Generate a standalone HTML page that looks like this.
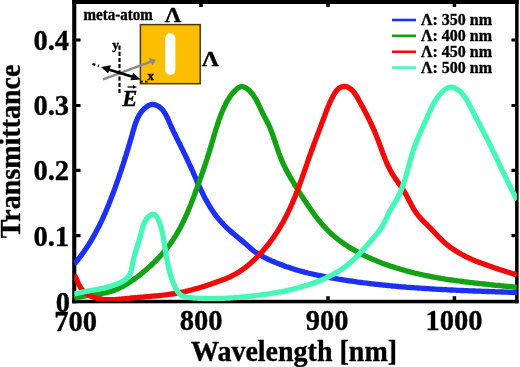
<!DOCTYPE html>
<html><head><meta charset="utf-8">
<style>
html,body{margin:0;padding:0;background:#fff;}
body{width:520px;height:367px;overflow:hidden;}
svg{display:block;}
text{font-family:"Liberation Serif","Times New Roman",serif;font-weight:bold;fill:#000;stroke:#000;stroke-width:0.35px;}
</style></head>
<body>
<svg width="520" height="367" viewBox="0 0 520 367">
<defs><clipPath id="plotclip"><rect x="74.2" y="2" width="442.7" height="299.6"/></clipPath></defs>
<rect x="0" y="0" width="520" height="367" fill="#fff"/>

<!-- frame -->
<g fill="#000">
<rect x="72.2" y="0" width="446.4" height="4"/>
<rect x="72.2" y="0" width="4.1" height="303.3"/>
<rect x="72.2" y="299.8" width="446.4" height="3.5"/>
<rect x="515.1" y="0" width="3.5" height="303.3"/>
</g>
<g stroke="#000" stroke-width="3.1">
<path d="M76 40H80.5M76 105.5H80.5M76 170.4H80.5M76 235.6H80.5"/>
<path d="M515.5 40H511.5M515.5 105.5H511.5M515.5 170.4H511.5M515.5 235.6H511.5"/>
</g>
<g stroke="#000" stroke-width="3.5">
<path d="M201 300V296.3M328 300V296.3M454.4 300V296.3"/>
<path d="M201 3.5V7M328 3.5V7M454.4 3.5V7"/>
</g>
<g clip-path="url(#plotclip)" fill="none" stroke-width="5.3" stroke-linejoin="round" stroke-linecap="butt">
<path d="M73.9 264.4 74.9 263.3 75.9 262.2 76.8 261.0 77.8 259.9 78.7 258.7 79.6 257.5 80.5 256.3 81.4 255.1 82.3 253.9 83.2 252.7 84.1 251.5 84.9 250.2 85.8 249.0 86.6 247.8 87.4 246.5 88.3 245.2 89.1 244.0 89.9 242.7 90.6 241.4 91.4 240.1 92.2 238.8 92.9 237.5 93.7 236.2 94.4 234.9 95.1 233.6 95.8 232.3 96.5 231.0 97.2 229.6 97.9 228.3 98.6 227.0 99.3 225.6 99.9 224.3 100.6 222.9 101.2 221.6 101.9 220.2 102.5 218.9 103.1 217.5 103.7 216.1 104.4 214.8 105.0 213.4 105.6 212.0 106.2 210.6 106.7 209.3 107.3 207.9 107.9 206.5 108.5 205.1 109.0 203.7 109.6 202.3 110.1 200.9 110.7 199.5 111.2 198.1 111.7 196.7 112.3 195.3 112.8 193.9 113.3 192.5 113.9 191.1 114.4 189.7 114.9 188.3 115.4 186.9 115.9 185.5 116.4 184.0 116.9 182.6 117.4 181.2 117.9 179.8 118.4 178.4 118.9 177.0 119.4 175.6 119.8 174.1 120.3 172.7 120.8 171.3 121.3 169.9 121.8 168.4 122.2 167.0 122.7 165.6 123.2 164.2 123.6 162.7 124.1 161.3 124.5 159.9 125.0 158.4 125.4 157.0 125.9 155.6 126.3 154.2 126.8 152.7 127.2 151.3 127.6 149.9 128.1 148.4 128.5 147.0 128.9 145.5 129.4 144.1 129.8 142.7 130.2 141.2 130.6 139.8 131.1 138.3 131.5 136.9 131.9 135.5 132.3 134.0 132.7 132.6 133.1 131.1 133.5 129.7 134.0 128.3 134.4 126.8 134.8 125.4 135.3 124.0 135.8 122.5 136.3 121.1 136.9 119.8 137.5 118.4 138.2 117.0 138.9 115.7 139.6 114.4 140.4 113.2 141.3 111.9 142.3 110.8 143.3 109.7 144.3 108.6 145.5 107.6 146.7 106.7 147.9 105.9 149.3 105.2 150.7 104.7 152.2 104.5 153.7 104.5 155.1 104.8 156.5 105.3 157.9 106.0 159.2 106.7 160.4 107.7 161.5 108.7 162.5 109.8 163.4 110.9 164.3 112.2 165.1 113.4 165.8 114.7 166.5 116.1 167.2 117.4 167.8 118.8 168.4 120.2 169.0 121.5 169.6 122.9 170.2 124.3 170.8 125.6 171.4 127.0 172.1 128.4 172.7 129.7 173.3 131.1 174.0 132.5 174.6 133.8 175.3 135.2 175.9 136.5 176.6 137.9 177.3 139.2 177.9 140.5 178.6 141.9 179.3 143.2 179.9 144.6 180.6 145.9 181.3 147.3 181.9 148.6 182.6 149.9 183.3 151.3 183.9 152.6 184.6 154.0 185.3 155.3 185.9 156.7 186.6 158.0 187.2 159.4 187.8 160.7 188.5 162.1 189.1 163.5 189.7 164.8 190.3 166.2 191.0 167.6 191.6 168.9 192.2 170.3 192.8 171.7 193.4 173.0 194.0 174.4 194.6 175.8 195.2 177.2 195.8 178.5 196.4 179.9 197.0 181.3 197.6 182.7 198.2 184.0 198.9 185.4 199.5 186.8 200.1 188.1 200.7 189.5 201.4 190.8 202.0 192.2 202.7 193.5 203.4 194.9 204.0 196.2 204.7 197.5 205.4 198.9 206.1 200.2 206.9 201.5 207.6 202.8 208.3 204.1 209.1 205.4 209.9 206.7 210.7 208.0 211.5 209.2 212.3 210.5 213.1 211.7 214.0 213.0 214.8 214.2 215.7 215.4 216.6 216.6 217.6 217.8 218.5 218.9 219.5 220.1 220.5 221.2 221.5 222.3 222.5 223.4 223.5 224.5 224.6 225.6 225.7 226.6 226.7 227.7 227.8 228.7 228.9 229.7 230.1 230.7 231.2 231.7 232.3 232.7 233.4 233.7 234.6 234.6 235.7 235.6 236.9 236.6 238.0 237.5 239.2 238.5 240.3 239.4 241.5 240.4 242.7 241.4 243.8 242.3 244.9 243.3 246.1 244.3 247.2 245.3 248.3 246.2 249.5 247.2 250.6 248.2 251.7 249.2 252.9 250.2 254.0 251.1 255.2 252.0 256.4 252.9 257.7 253.7 259.0 254.5 260.3 255.3 261.6 256.0 262.9 256.7 264.3 257.4 265.6 258.0 266.9 258.7 268.3 259.3 269.7 260.0 271.0 260.6 272.4 261.2 273.8 261.8 275.2 262.4 276.5 262.9 277.9 263.5 279.3 264.1 280.7 264.6 282.1 265.1 283.5 265.6 285.0 266.2 286.4 266.7 287.8 267.1 289.2 267.6 290.6 268.1 292.1 268.5 293.5 269.0 294.9 269.4 296.4 269.9 297.8 270.3 299.2 270.7 300.7 271.1 302.1 271.5 303.6 271.9 305.0 272.3 306.5 272.6 307.9 273.0 309.4 273.3 310.9 273.7 312.3 274.0 313.8 274.4 315.3 274.7 316.7 275.0 318.2 275.3 319.7 275.6 321.1 275.9 322.6 276.2 324.1 276.5 325.5 276.8 327.0 277.1 328.5 277.4 330.0 277.6 331.4 277.9 332.9 278.2 334.4 278.4 335.9 278.7 337.3 278.9 338.8 279.2 340.3 279.4 341.8 279.6 343.3 279.9 344.8 280.1 346.2 280.3 347.7 280.6 349.2 280.8 350.7 281.0 352.2 281.2 353.7 281.4 355.1 281.6 356.6 281.9 358.1 282.1 359.6 282.3 361.1 282.5 362.6 282.7 364.1 282.8 365.5 283.0 367.0 283.2 368.5 283.4 370.0 283.6 371.5 283.8 373.0 283.9 374.5 284.1 376.0 284.3 377.5 284.4 379.0 284.6 380.4 284.8 381.9 284.9 383.4 285.1 384.9 285.2 386.4 285.4 387.9 285.5 389.4 285.7 390.9 285.8 392.4 286.0 393.9 286.1 395.4 286.2 396.9 286.4 398.4 286.5 399.9 286.6 401.4 286.8 402.8 286.9 404.3 287.0 405.8 287.1 407.3 287.3 408.8 287.4 410.3 287.5 411.8 287.6 413.3 287.7 414.8 287.8 416.3 287.9 417.8 288.0 419.3 288.1 420.8 288.2 422.3 288.3 423.8 288.4 425.3 288.5 426.8 288.6 428.3 288.7 429.8 288.8 431.3 288.9 432.8 289.0 434.3 289.1 435.8 289.2 437.3 289.3 438.8 289.3 440.3 289.4 441.8 289.5 443.3 289.6 444.8 289.7 446.3 289.7 447.7 289.8 449.2 289.9 450.7 290.0 452.2 290.0 453.7 290.1 455.2 290.2 456.7 290.3 458.2 290.3 459.7 290.4 461.2 290.5 462.7 290.5 464.2 290.6 465.7 290.6 467.2 290.7 468.7 290.8 470.2 290.8 471.7 290.9 473.2 291.0 474.7 291.0 476.2 291.1 477.7 291.1 479.2 291.2 480.7 291.2 482.2 291.3 483.7 291.4 485.2 291.4 486.7 291.5 488.2 291.5 489.7 291.6 491.2 291.6 492.7 291.7 494.2 291.7 495.7 291.8 497.2 291.8 498.7 291.9 500.2 291.9 501.7 292.0 503.2 292.0 504.7 292.1 506.2 292.2 507.7 292.2 509.2 292.3 510.7 292.3 512.2 292.4 513.7 292.4 515.2 292.5 516.7 292.5 517.0 292.5" stroke="#1c30f6"/>
<path d="M74.1 298.2 75.5 297.8 77.0 297.5 78.4 297.2 79.9 296.9 81.4 296.6 82.9 296.4 84.3 296.1 85.8 295.9 87.3 295.7 88.8 295.5 90.3 295.3 91.8 295.1 93.3 294.9 94.8 294.7 96.2 294.5 97.7 294.3 99.2 294.1 100.7 293.8 102.2 293.5 103.6 293.2 105.1 292.9 106.6 292.6 108.0 292.2 109.5 291.8 110.9 291.4 112.3 290.9 113.7 290.4 115.1 289.9 116.5 289.3 117.9 288.7 119.3 288.1 120.6 287.4 121.9 286.8 123.3 286.1 124.6 285.3 125.9 284.6 127.2 283.8 128.4 283.0 129.7 282.2 131.0 281.4 132.2 280.5 133.4 279.7 134.7 278.8 135.9 277.9 137.1 277.0 138.3 276.1 139.4 275.2 140.6 274.3 141.8 273.3 143.0 272.4 144.1 271.4 145.3 270.5 146.4 269.5 147.5 268.5 148.6 267.5 149.8 266.5 150.9 265.5 152.0 264.5 153.0 263.4 154.1 262.4 155.2 261.3 156.2 260.3 157.3 259.2 158.3 258.1 159.4 257.0 160.4 255.9 161.4 254.8 162.4 253.7 163.3 252.5 164.3 251.4 165.3 250.2 166.2 249.1 167.1 247.9 168.1 246.7 169.0 245.5 169.9 244.3 170.7 243.1 171.6 241.9 172.5 240.6 173.3 239.4 174.1 238.1 174.9 236.8 175.7 235.6 176.5 234.3 177.2 233.0 178.0 231.7 178.7 230.4 179.5 229.1 180.2 227.8 180.9 226.4 181.6 225.1 182.2 223.8 182.9 222.4 183.6 221.1 184.2 219.7 184.8 218.4 185.5 217.0 186.1 215.6 186.7 214.3 187.3 212.9 187.9 211.5 188.5 210.1 189.0 208.7 189.6 207.3 190.2 206.0 190.7 204.6 191.3 203.2 191.8 201.8 192.4 200.4 192.9 199.0 193.4 197.6 194.0 196.2 194.5 194.8 195.0 193.4 195.5 191.9 196.0 190.5 196.6 189.1 197.1 187.7 197.6 186.3 198.1 184.9 198.6 183.5 199.1 182.1 199.6 180.7 200.1 179.2 200.6 177.8 201.1 176.4 201.6 175.0 202.1 173.6 202.6 172.2 203.1 170.7 203.5 169.3 204.0 167.9 204.5 166.5 205.0 165.1 205.5 163.6 205.9 162.2 206.4 160.8 206.9 159.4 207.3 157.9 207.8 156.5 208.2 155.1 208.7 153.6 209.1 152.2 209.6 150.8 210.0 149.3 210.4 147.9 210.9 146.5 211.3 145.0 211.7 143.6 212.2 142.2 212.6 140.7 213.0 139.3 213.4 137.8 213.8 136.4 214.2 135.0 214.7 133.5 215.1 132.1 215.5 130.6 216.0 129.2 216.4 127.8 216.9 126.3 217.3 124.9 217.8 123.5 218.3 122.1 218.7 120.6 219.2 119.2 219.8 117.8 220.3 116.4 220.8 115.0 221.4 113.6 221.9 112.2 222.5 110.8 223.1 109.5 223.7 108.1 224.3 106.7 225.0 105.4 225.7 104.0 226.3 102.7 227.1 101.4 227.8 100.1 228.6 98.8 229.4 97.5 230.2 96.3 231.1 95.1 232.0 93.9 233.0 92.8 234.0 91.6 235.0 90.6 236.1 89.5 237.3 88.6 238.5 87.7 239.8 87.0 241.3 86.6 242.8 86.7 244.2 87.1 245.6 87.7 246.9 88.5 248.0 89.4 249.2 90.4 250.2 91.5 251.2 92.6 252.2 93.7 253.1 94.9 253.9 96.2 254.7 97.4 255.5 98.7 256.3 100.0 257.0 101.3 257.7 102.7 258.3 104.0 259.0 105.4 259.7 106.7 260.3 108.1 260.9 109.4 261.6 110.8 262.2 112.1 262.9 113.5 263.5 114.8 264.2 116.2 264.9 117.5 265.6 118.8 266.3 120.2 267.0 121.5 267.6 122.8 268.3 124.2 268.9 125.5 269.6 126.9 270.2 128.3 270.7 129.7 271.3 131.1 271.8 132.5 272.3 133.9 272.9 135.3 273.4 136.7 273.8 138.1 274.3 139.5 274.8 141.0 275.3 142.4 275.7 143.8 276.2 145.2 276.7 146.7 277.2 148.1 277.7 149.5 278.1 150.9 278.6 152.3 279.1 153.7 279.7 155.1 280.2 156.6 280.7 157.9 281.3 159.3 281.9 160.7 282.5 162.1 283.1 163.5 283.7 164.8 284.4 166.2 285.0 167.5 285.7 168.9 286.4 170.2 287.1 171.5 287.8 172.8 288.5 174.2 289.3 175.5 290.0 176.8 290.8 178.1 291.5 179.4 292.3 180.7 293.0 181.9 293.8 183.2 294.6 184.5 295.4 185.8 296.2 187.1 297.0 188.3 297.7 189.6 298.5 190.9 299.3 192.2 300.1 193.4 300.9 194.7 301.8 196.0 302.6 197.2 303.4 198.5 304.2 199.7 305.0 201.0 305.9 202.2 306.7 203.5 307.5 204.7 308.4 206.0 309.2 207.2 310.1 208.4 310.9 209.7 311.8 210.9 312.7 212.1 313.5 213.3 314.4 214.5 315.3 215.8 316.2 217.0 317.1 218.1 318.0 219.3 319.0 220.5 319.9 221.7 320.9 222.8 321.8 224.0 322.8 225.1 323.8 226.2 324.8 227.3 325.9 228.4 326.9 229.5 328.0 230.6 329.0 231.6 330.1 232.7 331.2 233.7 332.3 234.7 333.5 235.7 334.6 236.6 335.8 237.6 336.9 238.5 338.1 239.5 339.3 240.4 340.5 241.3 341.7 242.2 342.9 243.0 344.2 243.9 345.4 244.7 346.7 245.5 347.9 246.4 349.2 247.2 350.5 247.9 351.8 248.7 353.1 249.5 354.4 250.2 355.7 251.0 357.0 251.7 358.3 252.4 359.6 253.1 361.0 253.8 362.3 254.5 363.6 255.1 365.0 255.8 366.3 256.4 367.7 257.1 369.1 257.7 370.4 258.3 371.8 258.9 373.2 259.5 374.6 260.1 376.0 260.6 377.3 261.2 378.7 261.8 380.1 262.3 381.5 262.9 382.9 263.4 384.3 263.9 385.8 264.4 387.2 264.9 388.6 265.4 390.0 265.9 391.4 266.4 392.8 266.8 394.3 267.3 395.7 267.8 397.1 268.2 398.6 268.6 400.0 269.1 401.4 269.5 402.9 269.9 404.3 270.3 405.8 270.7 407.2 271.1 408.7 271.5 410.1 271.9 411.6 272.2 413.0 272.6 414.5 273.0 416.0 273.3 417.4 273.7 418.9 274.0 420.3 274.3 421.8 274.7 423.3 275.0 424.7 275.3 426.2 275.6 427.7 275.9 429.1 276.2 430.6 276.5 432.1 276.8 433.6 277.0 435.0 277.3 436.5 277.6 438.0 277.8 439.5 278.1 440.9 278.4 442.4 278.6 443.9 278.8 445.4 279.1 446.9 279.3 448.3 279.5 449.8 279.8 451.3 280.0 452.8 280.2 454.3 280.4 455.8 280.6 457.3 280.8 458.7 281.0 460.2 281.2 461.7 281.4 463.2 281.6 464.7 281.8 466.2 282.0 467.7 282.2 469.2 282.4 470.6 282.6 472.1 282.7 473.6 282.9 475.1 283.1 476.6 283.2 478.1 283.4 479.6 283.6 481.1 283.7 482.6 283.9 484.1 284.0 485.6 284.2 487.0 284.4 488.5 284.5 490.0 284.7 491.5 284.8 493.0 285.0 494.5 285.1 496.0 285.3 497.5 285.4 499.0 285.5 500.5 285.7 502.0 285.8 503.5 286.0 505.0 286.1 506.5 286.3 507.9 286.4 509.4 286.6 510.9 286.7 512.4 286.8 513.9 287.0 515.4 287.1 516.9 287.3 516.9 287.3" stroke="#12a214"/>
<path d="M74.2 274.9 75.0 276.2 75.7 277.5 76.4 278.8 77.0 280.2 77.6 281.6 78.1 283.0 78.8 284.3 79.4 285.7 80.2 287.0 81.0 288.3 81.9 289.5 82.9 290.6 84.0 291.6 85.1 292.6 86.3 293.5 87.5 294.3 88.8 295.1 90.1 295.8 91.5 296.5 92.9 297.0 94.3 297.5 95.7 298.0 97.2 298.4 98.6 298.7 100.1 299.0 101.6 299.2 103.1 299.4 104.6 299.6 106.1 299.7 107.6 299.7 109.1 299.7 110.6 299.7 112.1 299.7 113.6 299.7 115.1 299.6 116.6 299.5 118.1 299.4 119.5 299.2 121.0 299.1 122.5 298.9 124.0 298.8 125.5 298.6 127.0 298.5 128.5 298.3 130.0 298.2 131.5 298.0 133.0 297.9 134.5 297.7 136.0 297.6 137.5 297.5 139.0 297.3 140.4 297.2 141.9 297.1 143.4 297.0 144.9 296.8 146.4 296.7 147.9 296.6 149.4 296.5 150.9 296.3 152.4 296.2 153.9 296.1 155.4 295.9 156.9 295.8 158.4 295.6 159.9 295.5 161.4 295.3 162.9 295.2 164.3 295.0 165.8 294.8 167.3 294.6 168.8 294.4 170.3 294.2 171.8 294.0 173.3 293.8 174.7 293.5 176.2 293.3 177.7 293.0 179.2 292.7 180.6 292.4 182.1 292.1 183.6 291.8 185.0 291.5 186.5 291.1 188.0 290.8 189.4 290.4 190.9 290.1 192.3 289.7 193.8 289.3 195.2 288.9 196.7 288.5 198.1 288.1 199.5 287.7 201.0 287.2 202.4 286.8 203.9 286.4 205.3 285.9 206.7 285.5 208.1 285.0 209.6 284.5 211.0 284.1 212.4 283.6 213.8 283.1 215.3 282.6 216.7 282.1 218.1 281.6 219.5 281.1 220.9 280.6 222.3 280.1 223.7 279.5 225.1 279.0 226.5 278.4 227.9 277.8 229.2 277.2 230.6 276.6 231.9 275.9 233.3 275.2 234.6 274.5 235.9 273.8 237.2 273.1 238.5 272.3 239.8 271.5 241.0 270.6 242.2 269.8 243.5 268.9 244.7 268.0 245.8 267.1 247.0 266.2 248.2 265.2 249.3 264.2 250.5 263.2 251.6 262.3 252.7 261.2 253.8 260.2 254.9 259.2 256.0 258.1 257.0 257.1 258.1 256.0 259.1 254.9 260.1 253.9 261.2 252.8 262.2 251.6 263.2 250.5 264.1 249.4 265.1 248.2 266.1 247.1 267.0 245.9 268.0 244.8 268.9 243.6 269.8 242.4 270.7 241.2 271.6 240.0 272.5 238.8 273.3 237.5 274.2 236.3 275.0 235.1 275.9 233.8 276.7 232.6 277.5 231.3 278.3 230.0 279.1 228.8 279.9 227.5 280.6 226.2 281.4 224.9 282.1 223.6 282.9 222.3 283.6 221.0 284.3 219.6 285.0 218.3 285.7 217.0 286.4 215.7 287.1 214.3 287.7 213.0 288.4 211.6 289.0 210.3 289.7 208.9 290.3 207.6 290.9 206.2 291.5 204.8 292.2 203.5 292.8 202.1 293.3 200.7 293.9 199.3 294.5 197.9 295.1 196.5 295.6 195.2 296.2 193.8 296.7 192.4 297.3 191.0 297.8 189.6 298.3 188.2 298.9 186.8 299.4 185.4 299.9 183.9 300.4 182.5 300.9 181.1 301.4 179.7 301.9 178.3 302.4 176.9 302.9 175.5 303.4 174.0 303.9 172.6 304.4 171.2 304.9 169.8 305.4 168.4 305.9 167.0 306.4 165.5 306.9 164.1 307.3 162.7 307.8 161.3 308.3 159.9 308.8 158.5 309.3 157.0 309.8 155.6 310.3 154.2 310.8 152.8 311.3 151.4 311.8 150.0 312.4 148.6 312.9 147.2 313.4 145.8 313.9 144.3 314.4 142.9 315.0 141.5 315.5 140.1 316.0 138.7 316.5 137.3 317.1 135.9 317.6 134.5 318.1 133.1 318.7 131.7 319.2 130.3 319.7 128.9 320.3 127.5 320.8 126.1 321.3 124.7 321.8 123.3 322.4 121.9 322.9 120.5 323.4 119.1 323.9 117.7 324.5 116.3 325.0 114.9 325.5 113.5 326.0 112.0 326.6 110.6 327.1 109.2 327.6 107.8 328.2 106.4 328.8 105.1 329.4 103.7 330.0 102.3 330.6 100.9 331.2 99.6 331.9 98.2 332.6 96.9 333.3 95.6 334.1 94.3 334.8 93.0 335.7 91.8 336.6 90.6 337.6 89.5 338.7 88.5 340.0 87.6 341.3 87.0 342.7 86.6 344.2 86.4 345.7 86.5 347.2 86.9 348.5 87.6 349.8 88.3 351.0 89.2 352.1 90.3 353.2 91.3 354.1 92.5 355.0 93.7 355.8 95.0 356.6 96.2 357.4 97.5 358.1 98.8 358.8 100.1 359.6 101.5 360.3 102.8 361.0 104.1 361.7 105.4 362.5 106.7 363.2 108.0 363.9 109.4 364.6 110.7 365.3 112.0 366.0 113.3 366.7 114.7 367.3 116.0 368.0 117.3 368.7 118.7 369.4 120.0 370.0 121.4 370.7 122.7 371.3 124.1 371.9 125.5 372.5 126.8 373.2 128.2 373.8 129.6 374.4 130.9 374.9 132.3 375.5 133.7 376.1 135.1 376.6 136.5 377.2 137.9 377.7 139.3 378.3 140.7 378.8 142.1 379.3 143.5 379.8 144.9 380.3 146.3 380.8 147.7 381.4 149.1 381.9 150.5 382.4 152.0 382.9 153.4 383.4 154.8 384.0 156.2 384.5 157.6 385.1 159.0 385.7 160.3 386.2 161.7 386.8 163.1 387.4 164.5 388.1 165.8 388.7 167.2 389.4 168.5 390.1 169.9 390.8 171.2 391.5 172.5 392.3 173.8 393.1 175.1 393.9 176.3 394.7 177.6 395.5 178.8 396.4 180.0 397.3 181.3 398.1 182.5 399.0 183.7 399.9 184.9 400.7 186.2 401.6 187.4 402.4 188.6 403.2 189.9 404.0 191.2 404.8 192.5 405.6 193.8 406.3 195.1 407.0 196.4 407.7 197.7 408.4 199.0 409.1 200.4 409.8 201.7 410.5 203.0 411.2 204.4 411.9 205.7 412.6 207.0 413.3 208.3 414.1 209.6 414.9 210.9 415.7 212.1 416.6 213.3 417.5 214.5 418.4 215.7 419.4 216.9 420.4 218.0 421.4 219.1 422.4 220.2 423.5 221.3 424.5 222.3 425.6 223.4 426.7 224.4 427.7 225.5 428.8 226.6 429.8 227.6 430.9 228.7 431.9 229.8 433.0 230.8 434.0 231.9 435.0 233.0 436.1 234.1 437.1 235.2 438.1 236.3 439.2 237.4 440.2 238.4 441.3 239.5 442.4 240.5 443.5 241.6 444.6 242.6 445.7 243.5 446.9 244.5 448.0 245.4 449.2 246.4 450.4 247.3 451.6 248.1 452.9 249.0 454.1 249.8 455.4 250.7 456.6 251.5 457.9 252.2 459.2 253.0 460.5 253.7 461.8 254.5 463.2 255.2 464.5 255.9 465.8 256.6 467.2 257.2 468.5 257.9 469.9 258.5 471.3 259.1 472.6 259.7 474.0 260.3 475.4 260.9 476.8 261.4 478.2 262.0 479.6 262.6 481.0 263.1 482.4 263.6 483.8 264.1 485.2 264.6 486.6 265.1 488.0 265.6 489.4 266.1 490.9 266.6 492.3 267.1 493.7 267.6 495.1 268.0 496.6 268.5 498.0 268.9 499.4 269.4 500.8 269.9 502.3 270.3 503.7 270.8 505.1 271.2 506.6 271.7 508.0 272.1 509.4 272.6 510.9 273.0 512.3 273.5 513.7 273.9 515.1 274.4 516.6 274.9 516.9 275.0" stroke="#f00a0a"/>
<path d="M74.0 294.1 75.4 293.7 76.9 293.4 78.4 293.0 79.8 292.7 81.3 292.4 82.8 292.1 84.2 291.8 85.7 291.5 87.2 291.2 88.7 291.0 90.1 290.7 91.6 290.4 93.1 290.1 94.6 289.9 96.0 289.6 97.5 289.3 99.0 289.0 100.4 288.7 101.9 288.4 103.4 288.1 104.8 287.8 106.3 287.4 107.7 287.0 109.2 286.6 110.6 286.2 112.1 285.8 113.5 285.3 114.9 284.8 116.3 284.3 117.7 283.8 119.1 283.2 120.5 282.6 121.8 281.9 123.1 281.2 124.4 280.3 125.6 279.5 126.7 278.5 127.8 277.4 128.7 276.2 129.5 275.0 130.2 273.6 130.7 272.2 131.2 270.8 131.5 269.3 131.8 267.9 132.1 266.4 132.3 264.9 132.6 263.4 132.9 262.0 133.2 260.5 133.5 259.0 133.9 257.6 134.3 256.1 134.7 254.7 135.1 253.3 135.5 251.8 136.0 250.4 136.4 249.0 136.9 247.5 137.3 246.1 137.8 244.7 138.3 243.2 138.7 241.8 139.1 240.4 139.6 238.9 140.0 237.5 140.4 236.1 140.8 234.6 141.2 233.2 141.5 231.7 141.9 230.2 142.3 228.8 142.7 227.3 143.1 225.9 143.6 224.5 144.2 223.1 144.8 221.8 145.6 220.4 146.4 219.2 147.3 218.0 148.3 216.9 149.4 215.9 150.7 215.0 152.0 214.4 153.5 214.3 154.9 214.9 156.0 215.9 156.9 217.1 157.7 218.4 158.3 219.7 158.9 221.1 159.4 222.5 159.9 223.9 160.4 225.3 160.9 226.8 161.3 228.2 161.6 229.7 162.0 231.1 162.3 232.6 162.6 234.0 162.9 235.5 163.2 237.0 163.5 238.5 163.7 239.9 164.0 241.4 164.2 242.9 164.4 244.4 164.7 245.9 164.9 247.4 165.1 248.8 165.4 250.3 165.6 251.8 165.9 253.3 166.1 254.8 166.3 256.2 166.6 257.7 166.9 259.2 167.1 260.7 167.4 262.1 167.7 263.6 168.0 265.1 168.3 266.5 168.7 268.0 169.0 269.5 169.4 270.9 169.8 272.4 170.2 273.8 170.6 275.3 171.0 276.7 171.5 278.1 172.0 279.5 172.5 280.9 173.0 282.3 173.6 283.7 174.2 285.1 174.8 286.5 175.4 287.8 176.1 289.2 176.9 290.5 177.7 291.7 178.7 292.9 179.7 294.0 180.9 294.9 182.1 295.7 183.5 296.3 184.9 296.8 186.4 297.1 187.8 297.4 189.3 297.6 190.8 297.7 192.3 297.9 193.8 298.0 195.3 298.1 196.8 298.2 198.3 298.3 199.8 298.3 201.3 298.4 202.8 298.5 204.3 298.5 205.8 298.5 207.3 298.6 208.8 298.6 210.3 298.6 211.8 298.6 213.3 298.6 214.8 298.6 216.3 298.5 217.8 298.5 219.3 298.5 220.8 298.4 222.3 298.4 223.8 298.3 225.3 298.2 226.8 298.1 228.3 298.1 229.8 298.0 231.3 297.9 232.8 297.8 234.3 297.7 235.8 297.5 237.3 297.4 238.8 297.3 240.3 297.2 241.8 297.1 243.2 296.9 244.7 296.8 246.2 296.6 247.7 296.5 249.2 296.3 250.7 296.2 252.2 296.0 253.7 295.8 255.2 295.7 256.7 295.5 258.2 295.3 259.6 295.1 261.1 294.9 262.6 294.7 264.1 294.5 265.6 294.3 267.1 294.1 268.6 293.9 270.0 293.6 271.5 293.4 273.0 293.2 274.5 292.9 276.0 292.7 277.4 292.4 278.9 292.1 280.4 291.8 281.9 291.6 283.3 291.3 284.8 291.0 286.3 290.6 287.7 290.3 289.2 290.0 290.7 289.7 292.1 289.3 293.6 289.0 295.0 288.6 296.5 288.2 297.9 287.8 299.4 287.5 300.8 287.1 302.3 286.6 303.7 286.2 305.1 285.8 306.6 285.4 308.0 284.9 309.4 284.4 310.9 284.0 312.3 283.5 313.7 283.0 315.1 282.5 316.5 281.9 317.9 281.4 319.3 280.8 320.7 280.3 322.1 279.7 323.5 279.1 324.8 278.5 326.2 277.9 327.5 277.2 328.9 276.6 330.2 275.9 331.6 275.2 332.9 274.5 334.2 273.8 335.5 273.0 336.8 272.3 338.1 271.5 339.4 270.7 340.6 269.9 341.9 269.1 343.1 268.2 344.3 267.3 345.5 266.5 346.7 265.5 347.9 264.6 349.1 263.7 350.2 262.7 351.3 261.7 352.5 260.7 353.6 259.7 354.6 258.7 355.7 257.6 356.8 256.6 357.8 255.5 358.9 254.4 359.9 253.3 360.9 252.2 361.9 251.1 362.9 250.0 363.9 248.9 364.9 247.8 365.9 246.6 366.9 245.5 367.9 244.4 368.9 243.2 369.9 242.1 370.8 241.0 371.8 239.8 372.8 238.7 373.8 237.5 374.7 236.4 375.7 235.2 376.6 234.1 377.6 232.9 378.5 231.7 379.4 230.5 380.2 229.3 381.1 228.0 381.9 226.8 382.7 225.5 383.4 224.2 384.1 222.9 384.8 221.5 385.5 220.2 386.1 218.8 386.7 217.5 387.3 216.1 387.9 214.7 388.5 213.4 389.2 212.0 389.9 210.7 390.7 209.4 391.4 208.1 392.2 206.8 393.0 205.5 393.8 204.3 394.6 203.0 395.4 201.7 396.2 200.4 396.9 199.1 397.6 197.8 398.3 196.5 398.9 195.1 399.6 193.8 400.2 192.4 400.8 191.0 401.3 189.6 401.9 188.2 402.4 186.8 402.9 185.4 403.4 184.0 403.9 182.6 404.4 181.2 404.8 179.7 405.3 178.3 405.7 176.9 406.1 175.4 406.5 174.0 407.0 172.5 407.4 171.1 407.8 169.6 408.2 168.2 408.6 166.8 408.9 165.3 409.3 163.9 409.7 162.4 410.1 161.0 410.5 159.5 411.0 158.1 411.4 156.6 411.8 155.2 412.2 153.8 412.7 152.3 413.1 150.9 413.6 149.5 414.1 148.1 414.6 146.6 415.1 145.2 415.6 143.8 416.2 142.4 416.7 141.0 417.3 139.6 417.9 138.3 418.4 136.9 419.0 135.5 419.6 134.1 420.2 132.7 420.8 131.4 421.4 130.0 422.1 128.6 422.7 127.3 423.3 125.9 423.9 124.5 424.5 123.2 425.1 121.8 425.8 120.4 426.4 119.1 427.0 117.7 427.6 116.3 428.2 114.9 428.8 113.6 429.4 112.2 430.0 110.8 430.7 109.5 431.3 108.1 432.0 106.8 432.7 105.4 433.4 104.1 434.1 102.8 434.9 101.5 435.6 100.2 436.5 99.0 437.3 97.8 438.2 96.5 439.1 95.4 440.1 94.2 441.1 93.1 442.1 92.0 443.2 90.9 444.3 89.9 445.5 89.0 446.8 88.3 448.1 87.6 449.6 87.2 451.1 87.1 452.5 87.2 454.0 87.6 455.3 88.3 456.6 89.0 457.9 89.9 459.1 90.8 460.2 91.8 461.3 92.8 462.3 93.9 463.3 95.0 464.2 96.2 465.1 97.4 465.9 98.7 466.7 99.9 467.5 101.2 468.2 102.5 468.9 103.9 469.6 105.2 470.3 106.5 471.0 107.9 471.7 109.2 472.3 110.5 473.0 111.9 473.7 113.2 474.4 114.5 475.1 115.9 475.8 117.2 476.5 118.5 477.2 119.9 477.9 121.2 478.6 122.5 479.3 123.8 480.0 125.2 480.7 126.5 481.4 127.8 482.1 129.2 482.8 130.5 483.5 131.8 484.1 133.1 484.8 134.5 485.5 135.8 486.2 137.1 486.9 138.5 487.6 139.8 488.3 141.1 488.9 142.5 489.6 143.8 490.3 145.2 490.9 146.5 491.6 147.9 492.2 149.2 492.9 150.6 493.5 151.9 494.2 153.3 494.8 154.6 495.5 156.0 496.1 157.3 496.8 158.7 497.4 160.0 498.1 161.4 498.7 162.8 499.3 164.1 500.0 165.5 500.6 166.8 501.2 168.2 501.9 169.5 502.5 170.9 503.2 172.3 503.8 173.6 504.5 175.0 505.1 176.3 505.8 177.7 506.4 179.0 507.1 180.4 507.7 181.7 508.4 183.1 509.0 184.4 509.7 185.8 510.4 187.1 511.0 188.4 511.7 189.8 512.4 191.1 513.1 192.5 513.8 193.8 514.5 195.1 515.2 196.4 515.9 197.8 516.6 199.1 517.1 200.0" stroke="#46f8b8"/>
</g>
<!-- tick labels -->
<g font-size="28.5" text-anchor="end">
<text x="69" y="49.5">0.4</text>
<text x="69" y="115">0.3</text>
<text x="69" y="180">0.2</text>
<text x="69" y="245.5">0.1</text>
<text x="70" y="311.5">0</text>
</g>
<g font-size="28.5" text-anchor="middle">
<text x="75.5" y="330.8">700</text>
<text x="201" y="330">800</text>
<text x="327" y="330">900</text>
<text x="454" y="330">1000</text>
</g>
<text transform="translate(294,361) scale(1,1.07)" font-size="28" text-anchor="middle">Wavelength [nm]</text>
<text transform="translate(20,151.5) rotate(-90) scale(1,1.07)" font-size="28" text-anchor="middle">Transmittance</text>
<!-- legend -->
<g stroke-width="2.6">
<path d="M392 20H416" stroke="#1c30f6"/>
<path d="M392 35.8H416" stroke="#12a214"/>
<path d="M392 51.8H416" stroke="#f00a0a"/>
<path d="M392 67.6H416" stroke="#46f8b8"/>
</g>
<g font-size="16">
<text transform="translate(421,25) scale(1,1.08)">Λ: 350 nm</text>
<text transform="translate(421,40.8) scale(1,1.08)">Λ: 400 nm</text>
<text transform="translate(421,56.8) scale(1,1.08)">Λ: 450 nm</text>
<text transform="translate(421,72.6) scale(1,1.08)">Λ: 500 nm</text>
</g>
<!-- inset -->
<text transform="translate(83.6,20.4) scale(1,1.08)" font-size="15" stroke="#000" stroke-width="0.4">meta-atom</text>
<text transform="translate(164.8,22) scale(1.12,1)" font-size="20.5">Λ</text>
<text transform="translate(201.8,65.8) scale(1.15,1)" font-size="21">Λ</text>
<rect x="140.4" y="24.6" width="59.8" height="59.1" fill="#fcbe00" stroke="#4a3808" stroke-width="1.5"/>
<rect x="165.2" y="33.2" width="10.2" height="41.8" rx="5.1" fill="#fff"/>
<path d="M119.5 45.5V93" stroke="#000" stroke-width="2.1" stroke-dasharray="4.2 2"/>
<path d="M140.5 81.6H149" stroke="#000" stroke-width="1.8" stroke-dasharray="2.5 2"/>
<text x="112.2" y="48.8" font-size="13.5">y</text>
<text x="147.6" y="79.8" font-size="13">x</text>
<!-- gray arrow -->
<path d="M103 79.4L151 61.6" stroke="#8a8a8a" stroke-width="2.5"/>
<path d="M156 59.8L148.5 58L152.5 65.5Z" fill="#8a8a8a"/>
<!-- E arrow -->
<path d="M92.5 64L99 66" stroke="#000" stroke-width="2.2" stroke-dasharray="3 2.5"/>
<path d="M106 68.7L135 77.6" stroke="#000" stroke-width="2.6"/>
<path d="M101 66.9L111 65.2L108.2 73.6Z" fill="#000"/>
<path d="M140.7 79.4L133.2 72.8L130.4 80.3Z" fill="#000"/>
<text x="122.3" y="106" font-size="22.5" font-style="italic" stroke="#000" stroke-width="0.6">E</text>
<path d="M127.5 87H134" stroke="#000" stroke-width="1.3"/>
<path d="M137 87L133 85.2V88.8Z" fill="#000"/>
</svg>
</body></html>
